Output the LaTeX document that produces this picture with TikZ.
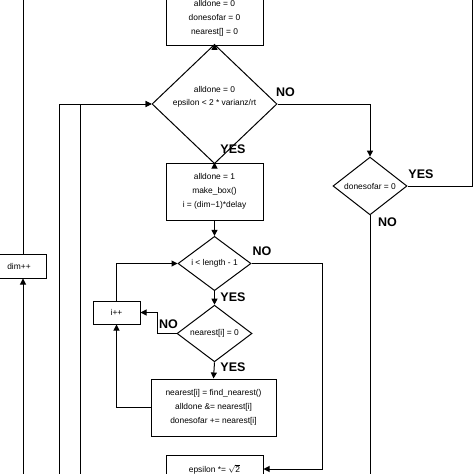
\documentclass[tikz,border=0pt]{standalone}
\usepackage{fontspec}
\setmainfont{Liberation Sans}
\usetikzlibrary{shapes.geometric,arrows.meta}

\begin{document}
\begin{tikzpicture}[
    x = 1pt, y = -1pt,
    line width = 1pt,
    >={Triangle[length=6pt,width=6pt]},
    box/.style = {draw, rectangle, align=center, inner sep=0pt, font=\fontsize{8.4}{14}\selectfont},
    decision/.style = {draw, diamond, align=center, inner sep=0pt, font=\fontsize{8.4}{13}\selectfont},
    answer/.style = {inner sep=0pt, font=\fontsize{12.5}{14}\selectfont\bfseries}
    ]
    \useasboundingbox (0,0) rectangle (474,474);
    \clip (0,0) rectangle (474,474);

    \node[box, minimum width=97pt, minimum height=53pt] (init) at (214.5,18.5)
        {alldone = 0\\ donesofar = 0\\ nearest[] = 0};
    \node[decision, minimum width=125pt, minimum height=78pt] (cond) at (214.5,104)
        {alldone = 0\\ epsilon < 2 * varianz/rt\\ \strut};
    \node[box, minimum width=97pt, minimum height=57pt] (setup) at (214.5,191.5)
        {alldone = 1\\ make\_box()\\ i = (dim−1)*delay};
    \node[decision, minimum width=73pt, minimum height=49pt] (loop) at (214.5,263.5) {i < length - 1};
    \node[decision, minimum width=75pt, minimum height=49pt] (check) at (214.5,333.5) {nearest[i] = 0};
    \node[box, minimum width=125pt, minimum height=57pt] (update) at (213.5,407.5)
        {nearest[i] = find\_nearest()\\ alldone \&= nearest[i]\\ donesofar += nearest[i]};
    \node[box, minimum width=47pt, minimum height=23pt] (inc) at (116.5,312.5) {i++};
    \node[box, anchor=north, minimum width=97pt, text height=17pt, text depth=40pt] (eps) at (214.5,455)
        {epsilon *= $\sqrt{\mbox{2}}$};
    \node[decision, minimum width=74pt, minimum height=52pt] (sofar) at (370,186) {donesofar = 0};
    \node[box, minimum width=54pt, minimum height=24pt] (dim) at (19,266) {dim++};

    \node[answer] (condno) at (285.5,92) {NO};
    \node[answer] (condyes) at (233,149.5) {YES};
    \node[answer] (sofaryes) at (421,174) {YES};
    \node[answer] (sofarno) at (387.5,222) {NO};
    \node[answer] (loopno) at (262,251) {NO};
    \node[answer] (loopyes) at (233,297.5) {YES};
    \node[answer] (checkno) at (168.5,324.5) {NO};
    \node[answer] (checkyes) at (233,367.5) {YES};

    \coordinate (outer) at (23,-10);
    \coordinate (back) at (23,490);
    \coordinate (retA) at (59,490);
    \coordinate (retB) at (80,490);
    \coordinate (exit) at (472,-10);
    \coordinate (fail) at (370,490);
    \coordinate (epsin) at ([yshift=-14pt]eps.north east);

    \draw[->] (init.south) -- (cond.north);
    \draw[->] (cond.south) -- (setup.north);
    \draw[->] (setup.south) -- (loop.north);
    \draw[->] (loop.south) -- (check.north);
    \draw[->] (check.south) -- (update.north);
    \draw[->] (check.west) -- ++(-19,0) |- (inc.east);
    \draw[->] (update.west) -| (inc.south);
    \draw[->] (inc.north) |- (loop.west);
    \draw[->] (loop.east) -| ([xshift=59pt]epsin) -- (epsin);
    \draw[->] (cond.east) -| (sofar.north);
    \draw (sofar.east) -| (exit);
    \draw (sofar.south) -- (fail);
    \draw[->] (retA) |- (cond.west);
    \draw[->] (retB) |- (cond.west);
    \draw (outer) -- (outer |- dim.north);
    \draw[->] (back) -- (back |- dim.south);
\end{tikzpicture}
\end{document}
